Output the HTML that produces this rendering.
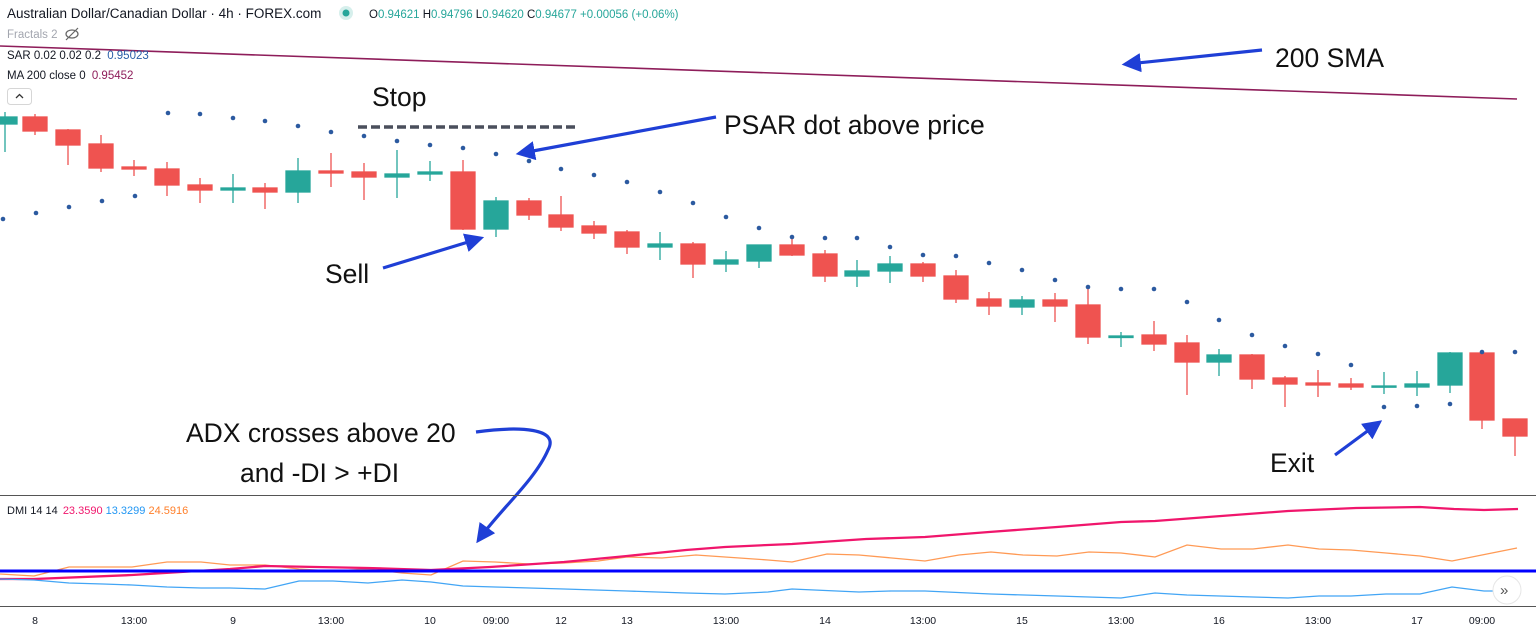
<!DOCTYPE html>
<html><head><meta charset="utf-8"><style>
html,body{margin:0;padding:0;background:#fff;width:1536px;height:630px;overflow:hidden}
svg{display:block}
text{font-family:"Liberation Sans",sans-serif}
</style></head><body>
<svg width="1536" height="630" viewBox="0 0 1536 630" xmlns="http://www.w3.org/2000/svg">
<rect width="1536" height="630" fill="#fff"/>
<path d="M0,46 C400,56 900,76 1517,99" stroke="#8e1d5a" stroke-width="1.6" fill="none"/>
<text x="7" y="18" font-size="13.5" fill="#131722">Australian Dollar/Canadian Dollar · 4h · FOREX.com</text>
<circle cx="346" cy="13" r="7" fill="#d6efec"/><circle cx="346" cy="13" r="3.5" fill="#26a69a"/>
<text x="369" y="18" font-size="11.5" fill="#26a69a"><tspan fill="#131722">O</tspan>0.94621 <tspan fill="#131722">H</tspan>0.94796 <tspan fill="#131722">L</tspan>0.94620 <tspan fill="#131722">C</tspan>0.94677 +0.00056 (+0.06%)</text>
<text x="7" y="38" font-size="11.5" fill="#a3a6af">Fractals 2</text>
<g stroke="#666" fill="none" stroke-width="1.2"><ellipse cx="72" cy="34" rx="6" ry="4"/><line x1="66" y1="40" x2="78" y2="28"/></g>
<text x="7" y="59" font-size="11.5" fill="#131722">SAR 0.02 0.02 0.2 <tspan fill="#2a5fa8" dx="3">0.95023</tspan></text>
<text x="7" y="79" font-size="11.5" fill="#131722">MA 200 close 0 <tspan fill="#8e1d5a" dx="3">0.95452</tspan></text>
<rect x="7.5" y="88.5" width="24" height="16" rx="3" fill="#fff" stroke="#d6d6d6"/>
<path d="M16,98 L19.5,94.5 L23,98" stroke="#333" fill="none" stroke-width="1.3"/>
<g stroke-width="1.3">
<g stroke="#26a69a" fill="#26a69a"><line x1="5" y1="112" x2="5" y2="152"/><rect x="-7" y="117" width="24" height="7"/></g>
<g stroke="#ef5350" fill="#ef5350"><line x1="35" y1="114" x2="35" y2="135"/><rect x="23" y="117" width="24" height="14"/></g>
<g stroke="#ef5350" fill="#ef5350"><line x1="68" y1="129" x2="68" y2="165"/><rect x="56" y="130" width="24" height="15"/></g>
<g stroke="#ef5350" fill="#ef5350"><line x1="101" y1="135" x2="101" y2="172"/><rect x="89" y="144" width="24" height="24"/></g>
<g stroke="#ef5350" fill="#ef5350"><line x1="134" y1="160" x2="134" y2="176"/><rect x="122" y="167" width="24" height="2"/></g>
<g stroke="#ef5350" fill="#ef5350"><line x1="167" y1="162" x2="167" y2="196"/><rect x="155" y="169" width="24" height="16"/></g>
<g stroke="#ef5350" fill="#ef5350"><line x1="200" y1="178" x2="200" y2="203"/><rect x="188" y="185" width="24" height="5"/></g>
<g stroke="#26a69a" fill="#26a69a"><line x1="233" y1="174" x2="233" y2="203"/><rect x="221" y="188" width="24" height="2"/></g>
<g stroke="#ef5350" fill="#ef5350"><line x1="265" y1="183" x2="265" y2="209"/><rect x="253" y="188" width="24" height="4"/></g>
<g stroke="#26a69a" fill="#26a69a"><line x1="298" y1="158" x2="298" y2="203"/><rect x="286" y="171" width="24" height="21"/></g>
<g stroke="#ef5350" fill="#ef5350"><line x1="331" y1="153" x2="331" y2="187"/><rect x="319" y="171" width="24" height="2"/></g>
<g stroke="#ef5350" fill="#ef5350"><line x1="364" y1="163" x2="364" y2="200"/><rect x="352" y="172" width="24" height="5"/></g>
<g stroke="#26a69a" fill="#26a69a"><line x1="397" y1="150" x2="397" y2="198"/><rect x="385" y="174" width="24" height="3"/></g>
<g stroke="#26a69a" fill="#26a69a"><line x1="430" y1="161" x2="430" y2="181"/><rect x="418" y="172" width="24" height="2"/></g>
<g stroke="#ef5350" fill="#ef5350"><line x1="463" y1="160" x2="463" y2="230"/><rect x="451" y="172" width="24" height="57"/></g>
<g stroke="#26a69a" fill="#26a69a"><line x1="496" y1="197" x2="496" y2="237"/><rect x="484" y="201" width="24" height="28"/></g>
<g stroke="#ef5350" fill="#ef5350"><line x1="529" y1="198" x2="529" y2="220"/><rect x="517" y="201" width="24" height="14"/></g>
<g stroke="#ef5350" fill="#ef5350"><line x1="561" y1="196" x2="561" y2="231"/><rect x="549" y="215" width="24" height="12"/></g>
<g stroke="#ef5350" fill="#ef5350"><line x1="594" y1="221" x2="594" y2="239"/><rect x="582" y="226" width="24" height="7"/></g>
<g stroke="#ef5350" fill="#ef5350"><line x1="627" y1="230" x2="627" y2="254"/><rect x="615" y="232" width="24" height="15"/></g>
<g stroke="#26a69a" fill="#26a69a"><line x1="660" y1="232" x2="660" y2="260"/><rect x="648" y="244" width="24" height="3"/></g>
<g stroke="#ef5350" fill="#ef5350"><line x1="693" y1="242" x2="693" y2="278"/><rect x="681" y="244" width="24" height="20"/></g>
<g stroke="#26a69a" fill="#26a69a"><line x1="726" y1="251" x2="726" y2="272"/><rect x="714" y="260" width="24" height="4"/></g>
<g stroke="#26a69a" fill="#26a69a"><line x1="759" y1="245" x2="759" y2="268"/><rect x="747" y="245" width="24" height="16"/></g>
<g stroke="#ef5350" fill="#ef5350"><line x1="792" y1="239" x2="792" y2="256"/><rect x="780" y="245" width="24" height="10"/></g>
<g stroke="#ef5350" fill="#ef5350"><line x1="825" y1="250" x2="825" y2="282"/><rect x="813" y="254" width="24" height="22"/></g>
<g stroke="#26a69a" fill="#26a69a"><line x1="857" y1="260" x2="857" y2="287"/><rect x="845" y="271" width="24" height="5"/></g>
<g stroke="#26a69a" fill="#26a69a"><line x1="890" y1="256" x2="890" y2="283"/><rect x="878" y="264" width="24" height="7"/></g>
<g stroke="#ef5350" fill="#ef5350"><line x1="923" y1="262" x2="923" y2="282"/><rect x="911" y="264" width="24" height="12"/></g>
<g stroke="#ef5350" fill="#ef5350"><line x1="956" y1="270" x2="956" y2="303"/><rect x="944" y="276" width="24" height="23"/></g>
<g stroke="#ef5350" fill="#ef5350"><line x1="989" y1="292" x2="989" y2="315"/><rect x="977" y="299" width="24" height="7"/></g>
<g stroke="#26a69a" fill="#26a69a"><line x1="1022" y1="296" x2="1022" y2="315"/><rect x="1010" y="300" width="24" height="7"/></g>
<g stroke="#ef5350" fill="#ef5350"><line x1="1055" y1="293" x2="1055" y2="322"/><rect x="1043" y="300" width="24" height="6"/></g>
<g stroke="#ef5350" fill="#ef5350"><line x1="1088" y1="287" x2="1088" y2="344"/><rect x="1076" y="305" width="24" height="32"/></g>
<g stroke="#26a69a" fill="#26a69a"><line x1="1121" y1="332" x2="1121" y2="347"/><rect x="1109" y="336" width="24" height="1.5"/></g>
<g stroke="#ef5350" fill="#ef5350"><line x1="1154" y1="321" x2="1154" y2="351"/><rect x="1142" y="335" width="24" height="9"/></g>
<g stroke="#ef5350" fill="#ef5350"><line x1="1187" y1="335" x2="1187" y2="395"/><rect x="1175" y="343" width="24" height="19"/></g>
<g stroke="#26a69a" fill="#26a69a"><line x1="1219" y1="349" x2="1219" y2="376"/><rect x="1207" y="355" width="24" height="7"/></g>
<g stroke="#ef5350" fill="#ef5350"><line x1="1252" y1="354" x2="1252" y2="389"/><rect x="1240" y="355" width="24" height="24"/></g>
<g stroke="#ef5350" fill="#ef5350"><line x1="1285" y1="376" x2="1285" y2="407"/><rect x="1273" y="378" width="24" height="6"/></g>
<g stroke="#ef5350" fill="#ef5350"><line x1="1318" y1="370" x2="1318" y2="397"/><rect x="1306" y="383" width="24" height="2"/></g>
<g stroke="#ef5350" fill="#ef5350"><line x1="1351" y1="378" x2="1351" y2="390"/><rect x="1339" y="384" width="24" height="3"/></g>
<g stroke="#26a69a" fill="#26a69a"><line x1="1384" y1="372" x2="1384" y2="394"/><rect x="1372" y="386" width="24" height="1.2"/></g>
<g stroke="#26a69a" fill="#26a69a"><line x1="1417" y1="371" x2="1417" y2="396"/><rect x="1405" y="384" width="24" height="3"/></g>
<g stroke="#26a69a" fill="#26a69a"><line x1="1450" y1="352" x2="1450" y2="393"/><rect x="1438" y="353" width="24" height="32"/></g>
<g stroke="#ef5350" fill="#ef5350"><line x1="1482" y1="352" x2="1482" y2="429"/><rect x="1470" y="353" width="24" height="67"/></g>
<g stroke="#ef5350" fill="#ef5350"><line x1="1515" y1="419" x2="1515" y2="456"/><rect x="1503" y="419" width="24" height="17"/></g>
</g>
<g fill="#2c5aa0">
<circle cx="3" cy="219" r="2.3"/><circle cx="36" cy="213" r="2.3"/><circle cx="69" cy="207" r="2.3"/><circle cx="102" cy="201" r="2.3"/><circle cx="135" cy="196" r="2.3"/>
<circle cx="168" cy="113" r="2.3"/><circle cx="200" cy="114" r="2.3"/><circle cx="233" cy="118" r="2.3"/><circle cx="265" cy="121" r="2.3"/><circle cx="298" cy="126" r="2.3"/><circle cx="331" cy="132" r="2.3"/><circle cx="364" cy="136" r="2.3"/><circle cx="397" cy="141" r="2.3"/><circle cx="430" cy="145" r="2.3"/><circle cx="463" cy="148" r="2.3"/><circle cx="496" cy="154" r="2.3"/><circle cx="529" cy="161" r="2.3"/><circle cx="561" cy="169" r="2.3"/><circle cx="594" cy="175" r="2.3"/><circle cx="627" cy="182" r="2.3"/><circle cx="660" cy="192" r="2.3"/><circle cx="693" cy="203" r="2.3"/><circle cx="726" cy="217" r="2.3"/><circle cx="759" cy="228" r="2.3"/><circle cx="792" cy="237" r="2.3"/><circle cx="825" cy="238" r="2.3"/><circle cx="857" cy="238" r="2.3"/><circle cx="890" cy="247" r="2.3"/><circle cx="923" cy="255" r="2.3"/><circle cx="956" cy="256" r="2.3"/><circle cx="989" cy="263" r="2.3"/><circle cx="1022" cy="270" r="2.3"/><circle cx="1055" cy="280" r="2.3"/><circle cx="1088" cy="287" r="2.3"/><circle cx="1121" cy="289" r="2.3"/><circle cx="1154" cy="289" r="2.3"/><circle cx="1187" cy="302" r="2.3"/><circle cx="1219" cy="320" r="2.3"/><circle cx="1252" cy="335" r="2.3"/><circle cx="1285" cy="346" r="2.3"/><circle cx="1318" cy="354" r="2.3"/><circle cx="1351" cy="365" r="2.3"/>
<circle cx="1384" cy="407" r="2.3"/><circle cx="1417" cy="406" r="2.3"/><circle cx="1450" cy="404" r="2.3"/><circle cx="1482" cy="352" r="2.3"/><circle cx="1515" cy="352" r="2.3"/>
</g>
<line x1="358" y1="127" x2="578" y2="127" stroke="#4a4f5c" stroke-width="3.5" stroke-dasharray="9,4"/>
<g font-size="26.5" fill="#111">
<text x="1275" y="67">200 SMA</text>
<text x="724" y="134">PSAR dot above price</text>
<text x="372" y="106">Stop</text>
<text x="325" y="283">Sell</text>
<text x="186" y="442">ADX crosses above 20</text>
<text x="240" y="482">and -DI &gt; +DI</text>
<text x="1270" y="472">Exit</text>
</g>
<defs><marker id="ah" markerWidth="6" markerHeight="6" refX="4" refY="3" orient="auto" markerUnits="strokeWidth"><path d="M0,0 L6,3 L0,6 Z" fill="#1f3fd6"/></marker></defs>
<g stroke="#1f3fd6" stroke-width="3.2" fill="none" marker-end="url(#ah)">
<line x1="1262" y1="50" x2="1128" y2="64"/>
<line x1="716" y1="117" x2="522" y2="153"/>
<line x1="383" y1="268" x2="478" y2="239"/>
<line x1="1335" y1="455" x2="1377" y2="424"/>
<path d="M476,432 C520,426 560,428 548,450 C535,480 500,510 480,538"/>
</g>
<line x1="0" y1="495.5" x2="1536" y2="495.5" stroke="#555" stroke-width="1"/>
<text x="7" y="514" font-size="11" fill="#131722">DMI 14 14 <tspan fill="#f0166c" dx="2">23.3590</tspan> <tspan fill="#2196f3">13.3299</tspan> <tspan fill="#ff7f2a">24.5916</tspan></text>
<polyline fill="none" stroke="#ff9a55" stroke-width="1.3" points="0,574 34,576 69,567 132,567 167,562 201,562 230,565 265,565 299,569 333,571 368,569 402,573 431,575 463,561 495,562 529,564 564,563 598,561 627,557 662,558 696,555 725,557 768,560 792,562 827,554 859,555 925,561 959,555 991,552 1023,555 1057,556 1089,552 1121,553 1155,557 1187,545 1221,549 1253,549 1288,545 1319,549 1351,550 1386,553 1420,556 1452,561 1517,548"/>
<polyline fill="none" stroke="#f0166c" stroke-width="2.3" points="0,579 34,579 132,575 230,569 265,566 368,568 431,570 490,567 564,562 627,556 686,550 725,547 768,545 792,544 866,539 925,537 989,532 1057,527 1121,522 1155,521 1288,511 1356,508 1420,507 1454,509 1484,510 1518,509"/>
<polyline fill="none" stroke="#42a5f5" stroke-width="1.3" points="0,579 34,580 69,583 103,584 132,585 167,587 201,588 230,588 265,589 299,581 333,581 368,583 402,580 431,582 463,586 495,587 564,589 627,591 686,593 725,594 768,592 792,589 859,592 891,591 925,591 991,594 1057,596 1089,597 1121,598 1155,593 1187,595 1253,597 1288,598 1319,596 1351,596 1386,594 1420,594 1452,587 1484,591 1503,591"/>
<line x1="0" y1="571" x2="1536" y2="571" stroke="#0000ff" stroke-width="3"/>
<circle cx="1507" cy="590" r="14" fill="#fff" stroke="#e6e6e6"/>
<text x="1500" y="595" font-size="15" fill="#555">»</text>
<line x1="0" y1="606.5" x2="1536" y2="606.5" stroke="#555" stroke-width="1"/>
<g font-size="10.5" fill="#131722" text-anchor="middle">
<text x="35" y="624">8</text><text x="134" y="624">13:00</text><text x="233" y="624">9</text><text x="331" y="624">13:00</text><text x="430" y="624">10</text><text x="496" y="624">09:00</text><text x="561" y="624">12</text><text x="627" y="624">13</text><text x="726" y="624">13:00</text><text x="825" y="624">14</text><text x="923" y="624">13:00</text><text x="1022" y="624">15</text><text x="1121" y="624">13:00</text><text x="1219" y="624">16</text><text x="1318" y="624">13:00</text><text x="1417" y="624">17</text><text x="1482" y="624">09:00</text>
</g>
</svg>
</body></html>
